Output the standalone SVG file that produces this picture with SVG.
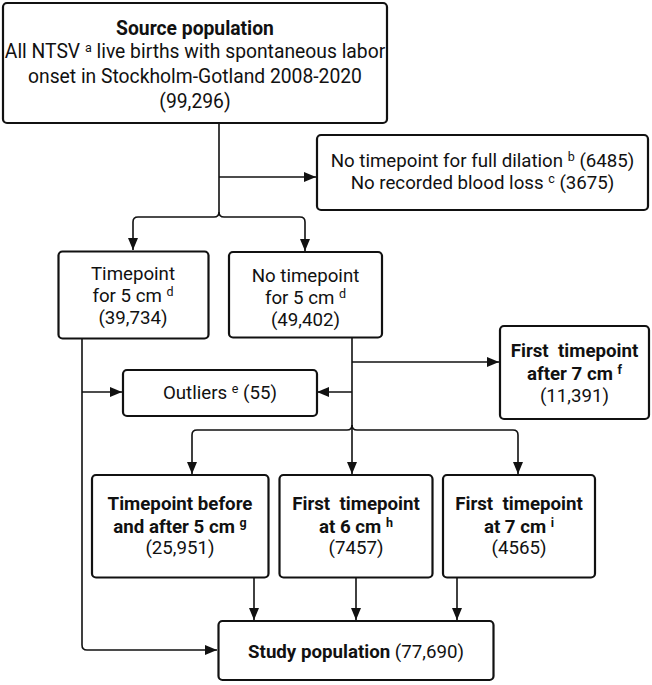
<svg xmlns="http://www.w3.org/2000/svg" width="652" height="685" viewBox="0 0 652 685">
<defs>
<marker id="arr" markerUnits="userSpaceOnUse" markerWidth="12" markerHeight="10" refX="12" refY="5" orient="auto"><path d="M0,0 L12,5 L0,10 z" fill="#111"/></marker>
<style>
.box{fill:#fff;stroke:#111;stroke-width:2.2}
.con{fill:none;stroke:#111;stroke-width:1.6}
text{font-family:Roboto,"Liberation Sans",sans-serif;font-size:18.7px;fill:#111;text-anchor:middle}
.src{font-size:19.3px}
.b{font-weight:700}
.sup{font-size:12.5px}
</style>
</defs>
<rect width="652" height="685" fill="#fff"/>
<g id="connectors">
<path class="con" d="M219,123 V212 Q219,217 214,217 H138 Q133,217 133,222 V250" marker-end="url(#arr)"/>
<path class="con" d="M219,212 Q219,217 224,217 H300 Q305,217 305,222 V251" marker-end="url(#arr)"/>
<path class="con" d="M219,177 H316" marker-end="url(#arr)"/>
<path class="con" d="M82,339 V645 Q82,650 87,650 H217" marker-end="url(#arr)"/>
<path class="con" d="M82,392 H122" marker-end="url(#arr)"/>
<path class="con" d="M352,392 H317" marker-end="url(#arr)"/>
<path class="con" d="M352,362 H499" marker-end="url(#arr)"/>
<path class="con" d="M352,338 V474" marker-end="url(#arr)"/>
<path class="con" d="M352,425 Q352,430 347,430 H197 Q192,430 192,435 V474" marker-end="url(#arr)"/>
<path class="con" d="M352,425 Q352,430 357,430 H513 Q518,430 518,435 V474" marker-end="url(#arr)"/>
<path class="con" d="M254,578 V620" marker-end="url(#arr)"/>
<path class="con" d="M356,578 V620" marker-end="url(#arr)"/>
<path class="con" d="M457,578 V620" marker-end="url(#arr)"/>
</g>
<g id="source">
<rect class="box" x="3" y="3" width="384" height="120" rx="4"/>
<text x="195" y="35" class="b src">Source population</text>
<text x="195" y="57.5" class="src">All NTSV <tspan class="sup" dy="-6">a</tspan><tspan dy="6"> live births with spontaneous labor</tspan></text>
<text x="195" y="83" class="src">onset in Stockholm-Gotland 2008-2020</text>
<text x="195" y="108" class="src">(99,296)</text>
</g>
<g id="excluded">
<rect class="box" x="317" y="135" width="331" height="75" rx="4"/>
<text x="482.5" y="166.5">No timepoint for full dilation <tspan class="sup" dy="-6">b</tspan><tspan dy="6"> (6485)</tspan></text>
<text x="482.5" y="189">No recorded blood loss <tspan class="sup" dy="-6">c</tspan><tspan dy="6"> (3675)</tspan></text>
</g>
<g id="timepoint5">
<rect class="box" x="58.5" y="251.5" width="150" height="87" rx="4"/>
<text x="133" y="280">Timepoint</text>
<text x="133" y="302">for 5 cm <tspan class="sup" dy="-6">d</tspan></text>
<text x="133" y="324">(39,734)</text>
</g>
<g id="notimepoint5">
<rect class="box" x="229" y="252" width="153" height="85.5" rx="4"/>
<text x="305.5" y="282">No timepoint</text>
<text x="305.5" y="304">for 5 cm <tspan class="sup" dy="-6">d</tspan></text>
<text x="305.5" y="326">(49,402)</text>
</g>
<g id="outliers">
<rect class="box" x="123" y="370" width="194" height="46" rx="4"/>
<text x="220" y="399">Outliers <tspan class="sup" dy="-6">e</tspan><tspan dy="6"> (55)</tspan></text>
</g>
<g id="after7">
<rect class="box" x="500" y="326" width="149" height="93" rx="4"/>
<text x="574.5" y="357" class="b">First&#160; timepoint</text>
<text x="574.5" y="379.5" class="b">after 7 cm <tspan class="sup" dy="-6">f</tspan></text>
<text x="574.5" y="401.5">(11,391)</text>
</g>
<g id="beforeafter5">
<rect class="box" x="92" y="475" width="176.5" height="102.5" rx="4"/>
<text x="180" y="510" class="b">Timepoint before</text>
<text x="180" y="533" class="b">and after 5 cm <tspan class="sup" dy="-6">g</tspan></text>
<text x="180" y="554">(25,951)</text>
</g>
<g id="at6">
<rect class="box" x="279.5" y="475" width="153" height="102.5" rx="4"/>
<text x="356" y="510" class="b">First&#160; timepoint</text>
<text x="356" y="533" class="b">at 6 cm <tspan class="sup" dy="-6">h</tspan></text>
<text x="356" y="554">(7457)</text>
</g>
<g id="at7">
<rect class="box" x="443" y="475" width="152" height="102.5" rx="4"/>
<text x="519" y="510" class="b">First&#160; timepoint</text>
<text x="519" y="533" class="b">at 7 cm <tspan class="sup" dy="-6">i</tspan></text>
<text x="519" y="554">(4565)</text>
</g>
<g id="study">
<rect class="box" x="218.5" y="621" width="275" height="59" rx="4"/>
<text x="356" y="658"><tspan class="b">Study population</tspan> (77,690)</text>
</g>
</svg>
